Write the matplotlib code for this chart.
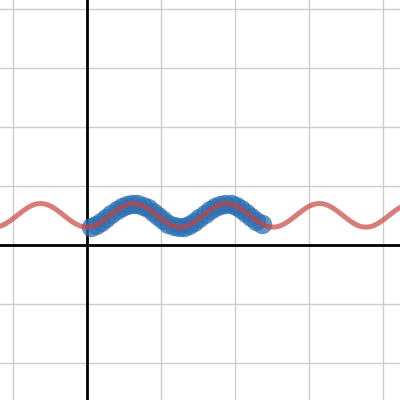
import numpy as np
import matplotlib
matplotlib.use('Agg')
import matplotlib.pyplot as plt

# curve y = c - a*cos(k*x)
curve_c = 0.5
curve_a = 0.2
curve_k = 5.0

pts_x = [0.05, 0.12, 0.19, 0.26, 0.33, 0.40, 0.47, 0.54, 0.61, 0.68, 0.75, 0.82,
         0.89, 0.96, 1.03, 1.10, 1.17, 1.24, 1.31, 1.38, 1.45, 1.52, 1.59, 1.66,
         1.73, 1.80, 1.87, 1.94, 2.01, 2.08, 2.15, 2.22, 2.29, 2.36]
pts_y = [0.306, 0.335, 0.384, 0.447, 0.516, 0.583, 0.641, 0.681, 0.699, 0.693, 0.664, 0.616,
         0.552, 0.483, 0.415, 0.358, 0.318, 0.301, 0.307, 0.337, 0.386, 0.450, 0.520, 0.586,
         0.643, 0.682, 0.700, 0.692, 0.662, 0.612, 0.548, 0.478, 0.412, 0.355]

fig = plt.figure(figsize=(4, 4), dpi=100)
ax = fig.add_axes([0, 0, 1, 1])
ax.set_xlim(-1.176, 4.23)
ax.set_ylim(-2.63, 4.15)

for gx in range(-1, 5):
  ax.axvline(gx, color='#cccccc', lw=1, zorder=0)
for gy in range(-2, 5):
  ax.axhline(gy, color='#cccccc', lw=1, zorder=0)
ax.axvline(0, color='black', lw=2, zorder=1)
ax.axhline(0, color='black', lw=2, zorder=1)

xs = np.linspace(-1.2, 4.3, 600)
ax.plot(xs, curve_c - curve_a * np.cos(curve_k * xs), color='#c74440', alpha=0.7, lw=3.6, zorder=3)
ax.plot(pts_x, pts_y, 'o', color='#2d70b3', alpha=0.75, ms=14, mec='none', zorder=2)

ax.set_xticks([])
ax.set_yticks([])
for s in ax.spines.values():
  s.set_visible(False)

fig.savefig('out.png', dpi=100)
